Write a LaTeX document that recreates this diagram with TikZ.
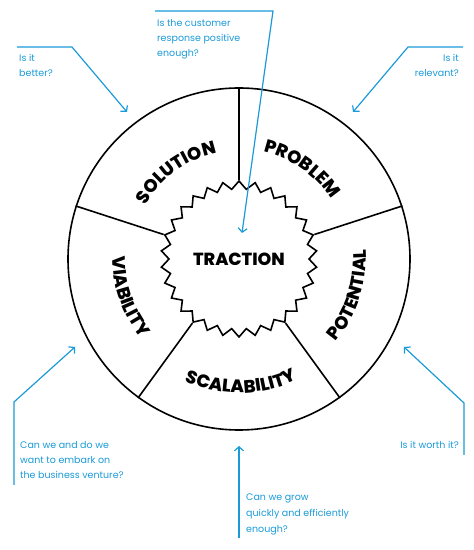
\documentclass[tikz,border=0pt]{standalone}
\usepackage{fontspec}
\setmainfont{Poppins}
\newfontfamily\heavyfont{Poppins ExtraBold}
\usetikzlibrary{shapes.geometric,arrows.meta,decorations.text}
\definecolor{askblue}{RGB}{26,154,215}
\newcommand\rimfont{\heavyfont\fontsize{18}{18}\selectfont}
\tikzset{
	ring/.style={draw,line width=1.6pt},
	question/.style={text=askblue,inner sep=0pt,align=left,font=\fontsize{9.5}{15}\selectfont},
	pointer/.style={draw=askblue,line width=1.2pt,-{Straight Barb[length=4pt,width=9pt]}}
}

\begin{document}
\begin{tikzpicture}[x=1pt,y=1pt]
\useasboundingbox (0,0) rectangle (474,550);
\coordinate (c) at (239,291);
\node[circle,ring,minimum size=342pt] (wheel) at (c) {};
\node[star,star points=30,star point height=8pt,minimum size=156pt,ring,font=\heavyfont\fontsize{17.5}{17.5}\selectfont] (traction) at (c) {TRACTION};
\foreach \p/\a in {1/90,7/162,13/234,19/306,25/18}
	\draw[ring] (traction.outer point \p) -- (wheel.\a);
% sector labels
\path[decorate,decoration={text along path,text align=center,text={|\rimfont|SOLUTION}}]
	(c) ++(171:108) arc[start angle=171,end angle=81,radius=108];
\path[decorate,decoration={text along path,text align=center,text={|\rimfont|PROBLEM}}]
	(c) ++(100:110) arc[start angle=100,end angle=10,radius=110];
\path[decorate,decoration={text along path,text align=center,text={|\rimfont|POTENTIAL}}]
	(c) ++(-63:127) arc[start angle=-63,end angle=27,radius=127];
\path[decorate,decoration={text along path,text align=center,text={|\rimfont|VIABILITY}}]
	(c) ++(154:126) arc[start angle=154,end angle=244,radius=126];
\path[decorate,decoration={text along path,text align=center,text={|\rimfont|SCALABILITY}}]
	(c) ++(226:134) arc[start angle=226,end angle=316,radius=134];
% questions
\node[question,anchor=north west] (customer) at (157,531) {Is the customer\\response positive\\enough?};
\node[question,anchor=north west] (better) at (19,496) {Is it\\better?};
\node[question,anchor=north east,align=right] (relevant) at (459,496) {Is it\\relevant?};
\node[question,anchor=north west] (venture) at (20,109) {Can we and do we\\want to embark on\\the business venture?};
\node[question,anchor=north east,align=right] (worth) at (459,109) {Is it worth it?};
\node[question,anchor=north west,font=\fontsize{9.5}{16}\selectfont] (grow) at (246,56) {Can we grow\\quickly and efficiently\\enough?};
% pointers
\coordinate (customer a) at (155,539);
\coordinate (customer b) at (273,539);
\coordinate (customer tip) at (242,317);
\coordinate (better a) at (17,503);
\coordinate (better b) at (72,503);
\coordinate (better tip) at (127,438);
\coordinate (relevant a) at (463,503);
\coordinate (relevant b) at (408,503);
\coordinate (relevant tip) at (353,438);
\coordinate (venture a) at (14,65);
\coordinate (venture b) at (14,148);
\coordinate (venture tip) at (75,203);
\coordinate (worth a) at (464,95);
\coordinate (worth b) at (464,147);
\coordinate (worth tip) at (404,203);
\coordinate (grow a) at (239,12);
\coordinate (grow tip) at (239,104);
\draw[pointer] (customer a) -- (customer b) -- (customer tip);
\draw[pointer] (better a) -- (better b) -- (better tip);
\draw[pointer] (relevant a) -- (relevant b) -- (relevant tip);
\draw[pointer] (venture a) -- (venture b) -- (venture tip);
\draw[pointer] (worth a) -- (worth b) -- (worth tip);
\draw[pointer] (grow a) -- (grow tip);
\end{tikzpicture}
\end{document}
